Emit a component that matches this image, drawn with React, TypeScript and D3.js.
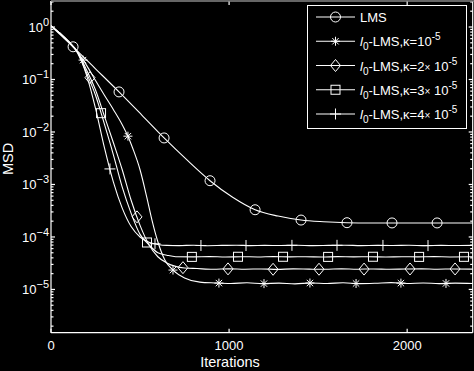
import React, { useEffect, useRef } from "react";
import * as d3 from "d3";

type Point = [number, number];

// MSD learning curves: [iteration, MSD]
const lmsCurve: Point[] = [
  [0, 1.05], [124, 0.42], [250, 0.16], [382, 0.058], [510, 0.021], [635, 7.7e-3],
  [765, 2.9e-3], [893, 1.18e-3], [1020, 5.7e-4], [1146, 3.3e-4], [1275, 2.5e-4],
  [1404, 2.1e-4], [1530, 1.95e-4], [1662, 1.87e-4], [1790, 1.85e-4], [1915, 1.85e-4],
  [2040, 1.84e-4], [2168, 1.85e-4], [2290, 1.84e-4], [2370, 1.84e-4],
];

// l0-LMS, kappa = 1e-5
const k1Curve: Point[] = [
  [0, 1.05], [50, 0.76], [100, 0.513], [150, 0.331], [200, 0.186], [250, 0.0955],
  [300, 0.0501], [350, 0.0269], [400, 0.0138], [432, 8.32e-3], [460, 4.79e-3],
  [500, 1.91e-3], [539, 5.5e-4], [567, 2.09e-4], [600, 8.1e-5], [640, 3.6e-5],
  [685, 2.34e-5], [750, 1.66e-5], [836, 1.38e-5], [920, 1.33e-5], [1010, 1.3e-5],
  [1100, 1.34e-5], [1190, 1.29e-5], [1280, 1.32e-5], [1370, 1.28e-5], [1460, 1.33e-5],
  [1550, 1.3e-5], [1640, 1.34e-5], [1730, 1.29e-5], [1820, 1.31e-5], [1910, 1.35e-5],
  [2000, 1.3e-5], [2090, 1.33e-5], [2180, 1.29e-5], [2270, 1.32e-5], [2370, 1.3e-5],
];

// l0-LMS, kappa = 2e-5
const k2Curve: Point[] = [
  [0, 1.05], [50, 0.76], [100, 0.525], [150, 0.335], [200, 0.151], [250, 0.0631],
  [300, 0.02], [350, 6.31e-3], [400, 1.91e-3], [450, 5.0e-4], [500, 1.66e-4],
  [550, 7.1e-5], [600, 4.2e-5], [650, 3.2e-5], [700, 2.75e-5], [750, 2.57e-5],
  [820, 2.5e-5], [910, 2.42e-5], [1000, 2.47e-5], [1090, 2.43e-5], [1180, 2.46e-5],
  [1270, 2.41e-5], [1360, 2.47e-5], [1450, 2.44e-5], [1540, 2.42e-5], [1630, 2.47e-5],
  [1720, 2.43e-5], [1810, 2.46e-5], [1900, 2.42e-5], [1990, 2.45e-5], [2080, 2.47e-5],
  [2170, 2.43e-5], [2260, 2.46e-5], [2370, 2.44e-5],
];

// l0-LMS, kappa = 3e-5
const k3Curve: Point[] = [
  [0, 1.05], [50, 0.76], [100, 0.525], [150, 0.325], [200, 0.132], [250, 0.0501],
  [300, 0.0141], [350, 3.72e-3], [400, 8.9e-4], [450, 2.82e-4], [500, 1.12e-4],
  [550, 7.1e-5], [600, 5.0e-5], [650, 4.5e-5], [700, 4.2e-5], [800, 4.17e-5],
  [890, 4.22e-5], [980, 4.15e-5], [1070, 4.21e-5], [1160, 4.16e-5], [1250, 4.23e-5],
  [1340, 4.17e-5], [1430, 4.2e-5], [1520, 4.14e-5], [1610, 4.22e-5], [1700, 4.18e-5],
  [1790, 4.21e-5], [1880, 4.15e-5], [1970, 4.2e-5], [2060, 4.17e-5], [2150, 4.22e-5],
  [2240, 4.16e-5], [2370, 4.2e-5],
];

// l0-LMS, kappa = 4e-5
const k4Curve: Point[] = [
  [0, 1.05], [50, 0.76], [100, 0.525], [150, 0.316], [200, 0.12], [250, 0.0282],
  [300, 5.01e-3], [350, 1.12e-3], [400, 3.55e-4], [450, 1.58e-4], [500, 1.0e-4],
  [550, 7.9e-5], [600, 7.2e-5], [650, 6.9e-5], [720, 6.85e-5], [800, 6.95e-5],
  [880, 6.82e-5], [960, 6.9e-5], [1040, 6.97e-5], [1120, 6.84e-5], [1200, 6.92e-5],
  [1290, 6.86e-5], [1380, 6.95e-5], [1470, 6.83e-5], [1560, 6.9e-5], [1650, 6.96e-5],
  [1740, 6.85e-5], [1830, 6.92e-5], [1920, 6.87e-5], [2010, 6.95e-5], [2100, 6.84e-5],
  [2190, 6.91e-5], [2280, 6.88e-5], [2370, 6.93e-5],
];

// iterations where the markers sit
const lmsMarks = [124, 382, 635, 893, 1146, 1404, 1662, 1915, 2168];
const k1Marks = [180, 432, 685, 943, 1196, 1454, 1713, 1965, 2218];
const k2Marks = [219, 483, 741, 994, 1247, 1505, 1758, 2016, 2269];
const k3Marks = [281, 539, 791, 1050, 1303, 1556, 1808, 2067, 2319];
const k4Marks = [331, 584, 842, 1095, 1353, 1606, 1864, 2117];

const xTicks = [0, 1000, 2000];
const yDecades = [0, -1, -2, -3, -4, -5];
const kappaFactors = ["", "2", "3", "4"];

const W = 474;
const H = 371;
const font = "'Liberation Sans', Arial, Helvetica, sans-serif";

type MarkerKind = "circle" | "star" | "diamond" | "square" | "plus";

const drawMarker = (
  g: d3.Selection<SVGGElement, unknown, null, undefined>,
  kind: MarkerKind,
  cx: number,
  cy: number
) => {
  const m = g.append("g")
    .attr("transform", `translate(${cx},${cy})`)
    .attr("stroke", "#fff")
    .attr("stroke-width", 1)
    .attr("fill", "none");
  const seg = (x1: number, y1: number, x2: number, y2: number) =>
    m.append("line").attr("x1", x1).attr("y1", y1).attr("x2", x2).attr("y2", y2);
  if (kind === "circle") m.append("circle").attr("r", 5);
  if (kind === "diamond") m.append("path").attr("d", "M0,-6L5,0L0,6L-5,0Z");
  if (kind === "square") m.append("rect").attr("x", -4.5).attr("y", -4.5).attr("width", 9).attr("height", 9);
  if (kind === "plus") {
    seg(0, -5.5, 0, 5.5);
    seg(-5.5, 0, 5.5, 0);
  }
  if (kind === "star") {
    seg(0, -4.5, 0, 4.5);
    seg(-4.5, 0, 4.5, 0);
    seg(-3.2, -3.2, 3.2, 3.2);
    seg(-3.2, 3.2, 3.2, -3.2);
  }
};

// value on the curve at a given iteration (linear in log space)
const valueAt = (data: Point[], it: number) => {
  const i = d3.bisector((d: Point) => d[0]).right(data, it);
  const a = data[Math.max(0, i - 1)];
  const b = data[Math.min(data.length - 1, i)];
  if (a === b) return a[1];
  const t = (it - a[0]) / (b[0] - a[0]);
  return Math.pow(10, Math.log10(a[1]) + t * (Math.log10(b[1]) - Math.log10(a[1])));
};

const App: React.FC = () => {
  const svgRef = useRef<SVGSVGElement>(null);

  useEffect(() => {
    if (!svgRef.current) return;
    const svg = d3.select(svgRef.current);
    svg.selectAll("*").remove();

    const left = 51, right = 472.7, top = 1, bottom = 332.7;

    const x = d3.scaleLinear().domain([0, 2368]).range([left, right]);
    const y = d3.scaleLog().domain([1.5e-6, 3.13]).range([bottom, top]);

    svg.append("rect").attr("width", W).attr("height", H).attr("fill", "#000");

    const series: { data: Point[]; marks: number[]; kind: MarkerKind }[] = [
      { data: lmsCurve, marks: lmsMarks, kind: "circle" },
      { data: k1Curve, marks: k1Marks, kind: "star" },
      { data: k2Curve, marks: k2Marks, kind: "diamond" },
      { data: k3Curve, marks: k3Marks, kind: "square" },
      { data: k4Curve, marks: k4Marks, kind: "plus" },
    ];

    svg.append("defs").append("clipPath").attr("id", "plotClip")
      .append("rect").attr("x", left).attr("y", top)
      .attr("width", right - left).attr("height", bottom - top);

    const plotG = svg.append("g").attr("clip-path", "url(#plotClip)");

    const line = d3.line<Point>()
      .x(d => x(d[0]))
      .y(d => y(d[1]))
      .curve(d3.curveMonotoneX);

    series.forEach(s => {
      plotG.append("path")
        .datum(s.data)
        .attr("fill", "none")
        .attr("stroke", "#fff")
        .attr("stroke-width", 1.1)
        .attr("d", line);
      s.marks.forEach(it => drawMarker(plotG, s.kind, x(it), y(valueAt(s.data, it))));
    });

    // axes box
    const axis = svg.append("g").attr("stroke", "#fff").attr("stroke-width", 1.2);
    axis.append("line").attr("x1", left).attr("x2", left).attr("y1", top).attr("y2", bottom);
    axis.append("line").attr("x1", left).attr("x2", right).attr("y1", bottom).attr("y2", bottom);
    axis.append("line").attr("x1", right).attr("x2", right).attr("y1", top).attr("y2", bottom);
    svg.append("line").attr("x1", left).attr("x2", W).attr("y1", top).attr("y2", top)
      .attr("stroke", "#888").attr("stroke-width", 1.5);

    // x ticks
    xTicks.forEach(t => {
      axis.append("line").attr("x1", x(t)).attr("x2", x(t)).attr("y1", bottom).attr("y2", bottom - 4);
      axis.append("line").attr("x1", x(t)).attr("x2", x(t)).attr("y1", top).attr("y2", top + 4);
      svg.append("text")
        .attr("x", x(t)).attr("y", 349.5)
        .attr("text-anchor", "middle")
        .attr("fill", "#fff").attr("font-family", font).attr("font-size", 13)
        .text(String(t));
    });

    // y ticks (decades + minor)
    const [lo, hi] = y.domain();
    for (let e = -6; e <= 0; e++) {
      for (let m = 1; m <= 9; m++) {
        const v = m * Math.pow(10, e);
        if (v < lo || v > hi) continue;
        const len = m === 1 ? 4 : 2.5;
        axis.append("line").attr("x1", left).attr("x2", left + len).attr("y1", y(v)).attr("y2", y(v));
        axis.append("line").attr("x1", right).attr("x2", right - len).attr("y1", y(v)).attr("y2", y(v));
      }
    }
    yDecades.forEach(e => {
      const t = svg.append("text")
        .attr("x", 49).attr("y", y(Math.pow(10, e)) + 5)
        .attr("text-anchor", "end")
        .attr("fill", "#fff").attr("font-family", font).attr("font-size", 13);
      t.append("tspan").text("10");
      t.append("tspan").attr("dy", -6).attr("font-size", 11).text(e === 0 ? "0" : `\u2212${-e}`);
    });

    // axis labels
    svg.append("text")
      .attr("x", 230).attr("y", 366.5)
      .attr("text-anchor", "middle")
      .attr("fill", "#fff").attr("font-family", font).attr("font-size", 14.5)
      .text("Iterations");
    svg.append("text")
      .attr("transform", "translate(13,159) rotate(-90)")
      .attr("text-anchor", "middle")
      .attr("fill", "#fff").attr("font-family", font).attr("font-size", 14.5)
      .text("MSD");

    // legend
    const lg = svg.append("g");
    lg.append("rect")
      .attr("x", 307.5).attr("y", 5.5).attr("width", 159).attr("height", 123)
      .attr("fill", "#000").attr("stroke", "#fff").attr("stroke-width", 1);
    const rowY = d3.scaleLinear().domain([0, 4]).range([17, 114]);
    series.forEach((s, i) => {
      const ry = rowY(i);
      lg.append("line").attr("x1", 316).attr("x2", 355).attr("y1", ry).attr("y2", ry)
        .attr("stroke", "#fff").attr("stroke-width", 1.1);
      drawMarker(lg, s.kind, 335.5, ry);
      const t = lg.append("text")
        .attr("x", 360).attr("y", ry + 5)
        .attr("fill", "#fff").attr("font-family", font).attr("font-size", 13);
      if (i === 0) {
        t.text("LMS");
        return;
      }
      const f = kappaFactors[i - 1];
      t.append("tspan").attr("font-style", "italic").text("l");
      t.append("tspan").attr("dy", 4).attr("font-size", 10).text("0");
      t.append("tspan").attr("dy", -4).text("-LMS,\u03ba=" + f);
      if (f) t.append("tspan").attr("font-size", 10).text("\u00d7");
      t.append("tspan").text(f ? " 10" : "10");
      t.append("tspan").attr("dy", -6).attr("font-size", 10).text("-5");
    });
  }, []);

  return (
    <svg
      ref={svgRef}
      width={W}
      height={H}
      style={{ position: "absolute", left: 0, top: 0, display: "block" }}
    />
  );
};

export default App;
